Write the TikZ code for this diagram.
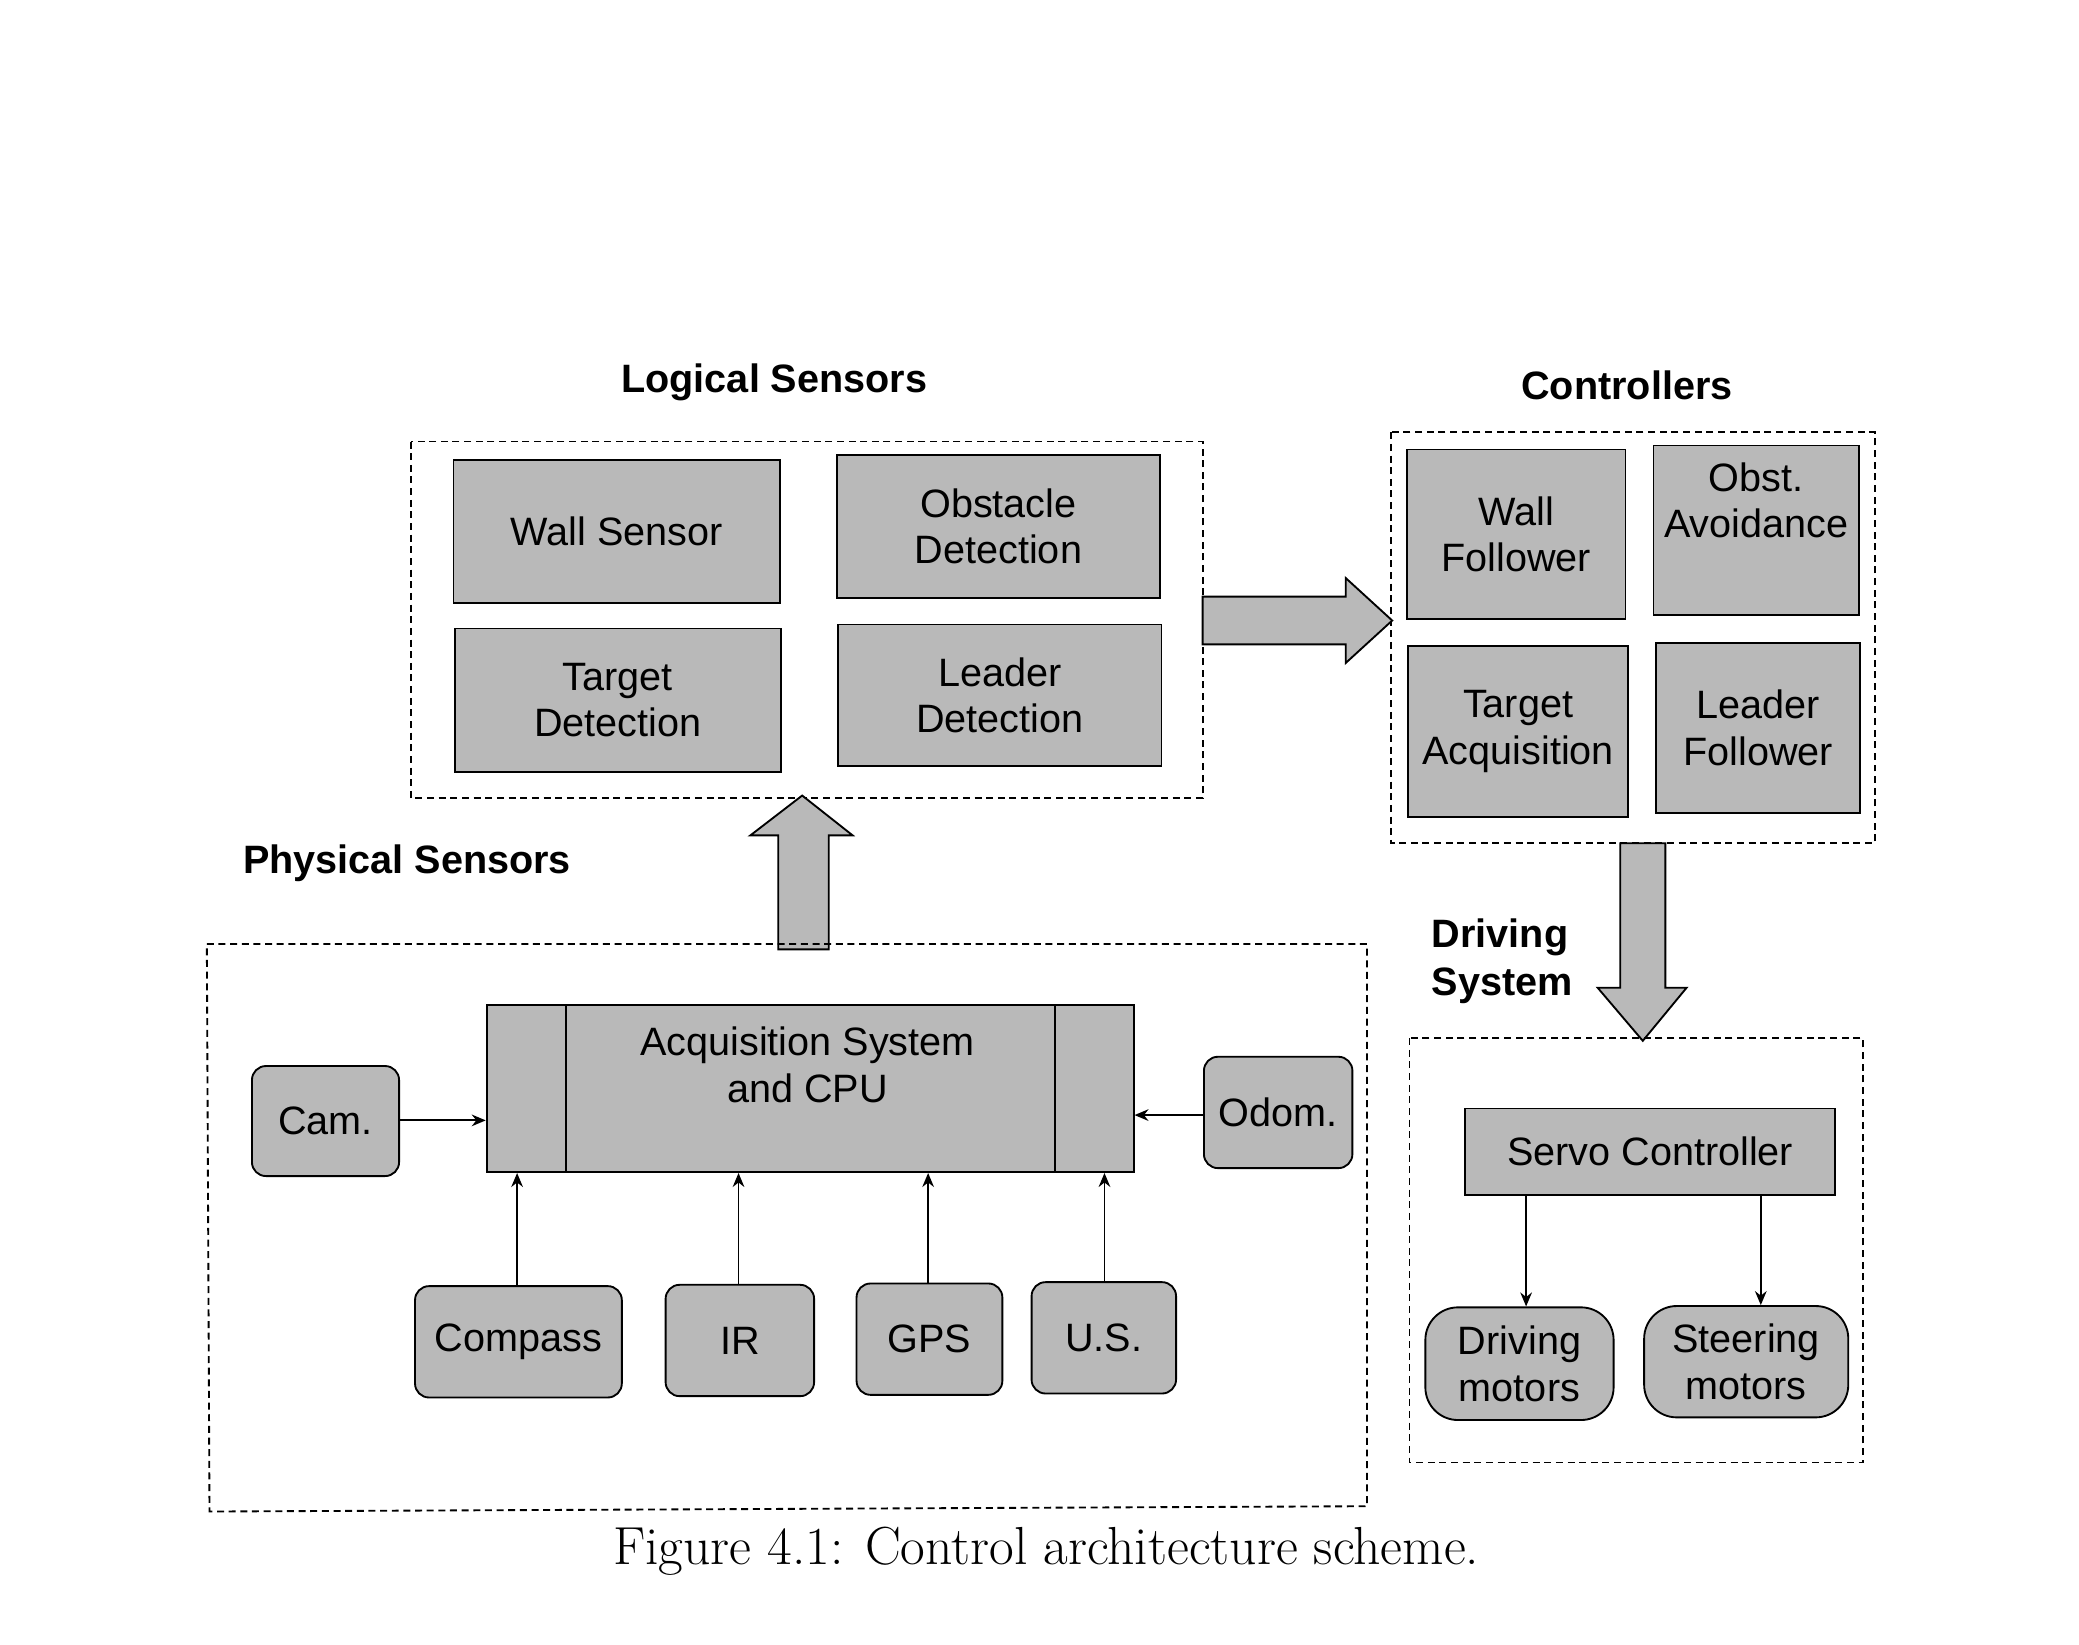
\documentclass[tikz,border=0pt]{standalone}
\usepackage{fontspec}
\setmainfont{Liberation Sans}
\newfontfamily\capfont{Latin Modern Roman}
\usetikzlibrary{arrows.meta}
\begin{document}
\begin{tikzpicture}[x=0.02cm,y=-0.02cm,
  box/.style={draw,thick,fill=gray!55,inner sep=0pt,align=center,font=\fontsize{17}{20}\selectfont},
  sq/.style={box,minimum width=#1},
  rbox/.style={box,rounded corners=6pt},
  grp/.style={draw,densely dashed,thick},
  lbl/.style={font=\fontsize{17}{21}\selectfont\bfseries,align=left},
  arr/.style={-{Stealth[length=6pt,width=5pt]},thick},
  big/.style={draw,thick,fill=gray!55}]
\useasboundingbox (0,0) rectangle (1568,1240);
% Logical sensors
\node[lbl] (lsl) at (584,288) {Logical Sensors};
\draw[grp] (310,333) rectangle (907,602);
\node[box,minimum width=4.92cm,minimum height=2.16cm] (ws) at (465,401) {Wall Sensor};
\node[box,minimum width=4.88cm,minimum height=2.16cm] (od) at (753,397) {Obstacle\\Detection};
\node[box,minimum width=4.92cm,minimum height=2.16cm] (td) at (466,528) {Target\\Detection};
\node[box,minimum width=4.88cm,minimum height=2.14cm] (ld) at (754,524.5) {Leader\\Detection};
% Controllers
\node[lbl] (cl) at (1227,291) {Controllers};
\draw[grp] (1049,326) rectangle (1414,636);
\node[box,minimum width=3.3cm,minimum height=2.56cm] (wf) at (1143.5,403) {Wall\\Follower};
\node[box,minimum width=3.1cm,minimum height=2.56cm] (oa) at (1324.5,400) {Obst.\\Avoidance\\[6pt]};
\node[box,minimum width=3.32cm,minimum height=2.58cm] (ta) at (1145,551.5) {Target\\Acquisition};
\node[box,minimum width=3.08cm,minimum height=2.56cm] (lf) at (1326,549) {Leader\\Follower};
% big arrows
\draw[big] (907,450) -- (1015,450) -- (1015,436) -- (1050,468) -- (1015,500) -- (1015,486) -- (907,486) -- cycle;
\draw[big] (1222,636) -- (1256,636) -- (1256,745) -- (1272,745) -- (1239,785) -- (1205,745) -- (1222,745) -- cycle;
\draw[big] (587,716) -- (587,630) -- (566,630) -- (605,600) -- (643,630) -- (625,630) -- (625,716) -- cycle;
% Driving system
\node[lbl] (dsl) at (1133,725) {Driving\\System};
\draw[grp] (1063,783) rectangle (1405,1103);
\node[box,minimum width=5.58cm,minimum height=1.3cm] (sc) at (1244.5,868.5) {Servo Controller};
\node[rbox,rounded corners=14pt,minimum width=2.84cm,minimum height=1.7cm] (dm) at (1146,1028.5) {Driving\\motors};
\node[rbox,rounded corners=14pt,minimum width=3.08cm,minimum height=1.68cm] (sm) at (1317,1027) {Steering\\motors};
\draw[arr] (sc.south -| 1151,0) -- (dm.north -| 1151,0);
\draw[arr] (sc.south -| 1328,0) -- (sm.north -| 1328,0);
% Physical
\node[lbl] (psl) at (307,651) {Physical Sensors};
\draw[grp] (156,712) -- (1031,712) -- (1031,1136) -- (158,1140) -- cycle;
\node[box,minimum width=9.76cm,minimum height=2.52cm] (acq) at (611,821) {};
\draw[thick] (427,758) -- (427,884) (796,758) -- (796,884);
\node[font=\fontsize{17}{20}\selectfont,align=center] (acqt) at (609,803) {Acquisition System\\and CPU};
\node[rbox,minimum width=2.22cm,minimum height=1.66cm] (cam) at (245.5,845.5) {Cam.};
\node[rbox,minimum width=2.24cm,minimum height=1.68cm] (odom) at (964,839) {Odom.};
\node[rbox,minimum width=3.12cm,minimum height=1.68cm] (cmp) at (391,1012) {Compass};
\node[rbox,minimum width=2.24cm,minimum height=1.68cm] (ir) at (558,1011) {IR};
\node[rbox,minimum width=2.2cm,minimum height=1.68cm] (gps) at (701,1010) {GPS};
\node[rbox,minimum width=2.18cm,minimum height=1.68cm] (us) at (832.5,1009) {U.S.};
\draw[arr] (cam.east |- 0,845) -- (acq.west |- 0,845);
\draw[arr] (odom.west |- 0,841) -- (acq.east |- 0,841);
\draw[arr] (cmp.north -| 390,0) -- (acq.south -| 390,0);
\draw[arr] (ir.north -| 557,0) -- (acq.south -| 557,0);
\draw[arr] (gps.north -| 700,0) -- (acq.south -| 700,0);
\draw[arr] (us.north -| 833,0) -- (acq.south -| 833,0);
\node[font=\capfont\fontsize{23}{26}\selectfont] (cap) at (789,1170) {Figure 4.1: Control architecture scheme.};
\end{tikzpicture}
\end{document}
